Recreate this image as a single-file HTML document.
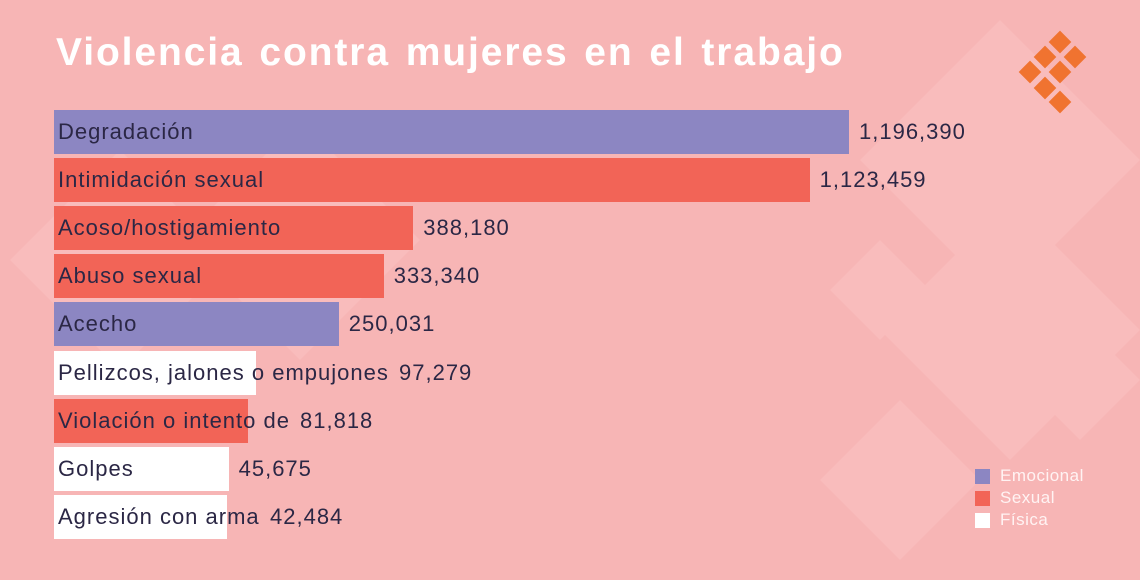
<!DOCTYPE html>
<html><head><meta charset="utf-8"><style>
body{margin:0;width:1140px;height:580px;overflow:hidden;background:#f7b5b5;font-family:"Liberation Sans",sans-serif}
#wrap{position:relative;width:1140px;height:580px}
.row{position:absolute;left:54px;height:44px}
.bar{position:absolute;left:0;top:0;height:44px}
.lab{position:absolute;left:4px;top:9px;font-size:22px;color:#2b2745;white-space:nowrap;letter-spacing:1px}
.val{position:absolute;top:9px;font-size:22px;color:#2b2745;white-space:nowrap;letter-spacing:1px}
.leg{position:absolute;left:975px;font-size:17px;color:#fff3f3}
.leg i{position:absolute;left:0;top:2px;width:15px;height:15px}
.leg span{position:absolute;left:25px;top:-1px;white-space:nowrap;letter-spacing:0.5px}
</style></head><body><div id="wrap">
<svg width="1140" height="580" style="position:absolute;left:0;top:0">
<g fill="#f9bcbc">
<polygon points="1000,20 1140,160 1000,300 860,160"/>
<polygon points="1010,200 1140,330 1010,460 880,330"/>
<polygon points="300,120 420,240 300,360 180,240"/>
<polygon points="120,150 230,260 120,370 10,260"/>
<polygon points="900,400 980,480 900,560 820,480"/>
<polygon points="1080,320 1140,380 1080,440 1020,380"/>
<polygon points="880,240 930,290 880,340 830,290"/>
</g>
<g fill="#f07330">
<rect x="-8" y="-8" width="16" height="16" transform="translate(1060,42) rotate(45)"/>
<rect x="-8" y="-8" width="16" height="16" transform="translate(1045,57) rotate(45)"/>
<rect x="-8" y="-8" width="16" height="16" transform="translate(1075,57) rotate(45)"/>
<rect x="-8" y="-8" width="16" height="16" transform="translate(1030,72) rotate(45)"/>
<rect x="-8" y="-8" width="16" height="16" transform="translate(1060,72) rotate(45)"/>
<rect x="-8" y="-8" width="16" height="16" transform="translate(1045,88) rotate(45)"/>
<rect x="-8" y="-8" width="16" height="16" transform="translate(1060,102) rotate(45)"/>
</g>
</svg>
<div style="position:absolute;left:56px;top:31px;font-size:39px;font-weight:bold;color:#fff;letter-spacing:1.9px;word-spacing:3px;white-space:nowrap">Violencia contra mujeres en el trabajo</div>
<div id="rows"></div>
<div class="leg" style="top:467px"><i style="background:#8c86c2"></i><span>Emocional</span></div>
<div class="leg" style="top:489px"><i style="background:#f26457"></i><span>Sexual</span></div>
<div class="leg" style="top:511px"><i style="background:#fff"></i><span>Física</span></div>
</div>
<script>
const categories=["Degradación","Intimidación sexual","Acoso/hostigamiento","Abuso sexual","Acecho","Pellizcos, jalones o empujones","Violación o intento de","Golpes","Agresión con arma"];
const values=[1196390,1123459,388180,333340,250031,97279,81818,45675,42484];
const types=["Emocional","Sexual","Sexual","Sexual","Emocional","Física","Sexual","Física","Física"];
const colors={"Emocional":"#8c86c2","Sexual":"#f26457","Física":"#ffffff"};
function xw(v){return 150+(795-150)*v/1196390;}
const rows=document.getElementById('rows');
categories.forEach((c,i)=>{
  const r=document.createElement('div');r.className='row';r.style.top=(110+i*48.1)+'px';
  
  
  const b=document.createElement('div');b.className='bar';b.style.width=xw(values[i])+'px';b.style.background=colors[types[i]];
  
  
  const l=document.createElement('div');l.className='lab';l.textContent=c;
  
  
  const v=document.createElement('div');v.className='val';v.textContent=values[i].toLocaleString('en-US');
  
  
  r.appendChild(b);r.appendChild(l);r.appendChild(v);rows.appendChild(r);
  const le=4+l.offsetWidth;
  v.style.left=Math.max(xw(values[i])+10,le+10)+'px';
});
</script></body></html>
